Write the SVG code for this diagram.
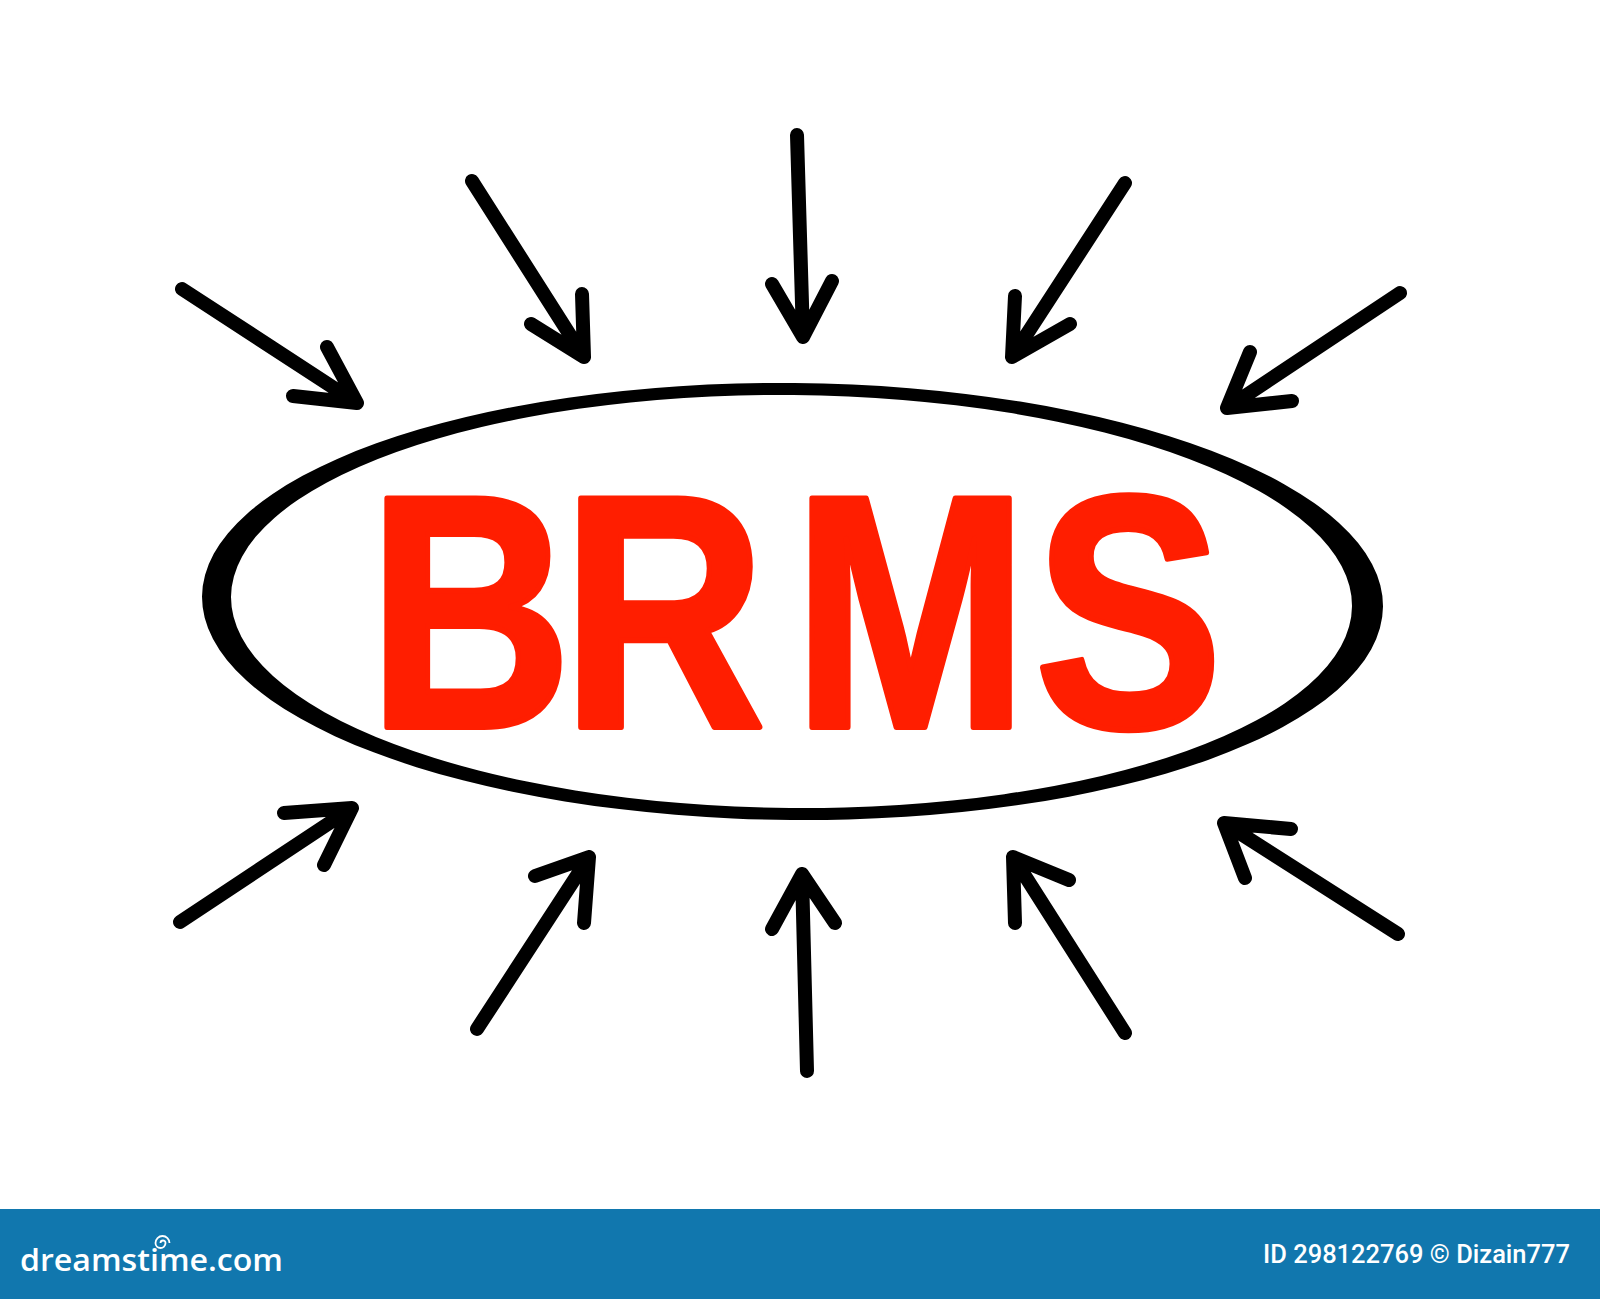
<svg xmlns="http://www.w3.org/2000/svg" width="1600" height="1299" viewBox="0 0 1600 1299">
<style>
.arr{fill:none;stroke:#000;stroke-width:14;stroke-linecap:round;stroke-linejoin:round}
.banner-txt{fill:#fff}
</style>
<rect width="1600" height="1299" fill="#fff"/>
<g id="ellipse-node">
<path fill="#000" fill-rule="evenodd" transform="rotate(0.5 792 602)" d="M202,601.5 A590.5,218.5 0 1,0 1383,601.5 A590.5,218.5 0 1,0 202,601.5 Z M231,601.5 A560.5,206.5 0 1,0 1352,601.5 A560.5,206.5 0 1,0 231,601.5 Z"/>
</g>
<g id="label-brms">
<text transform="scale(0.85,1)" x="433 661 933 1217" y="727" font-family="'Liberation Sans', Arial, sans-serif" font-weight="700" font-size="332" fill="#ff1e00" stroke="#ff1e00" stroke-width="6" stroke-linejoin="round">BRMS</text>
</g>
<g id="connectors">
<path class="arr" d="M182,289 L357,403 M293,396 L357,403 L327,347"/>
<path class="arr" d="M472,181 L584,357 M531,324 L584,357 L582,294"/>
<path class="arr" d="M797,135 L803,337 M772,284 L803,337 L832,281"/>
<path class="arr" d="M1125,183 L1012,357 M1015,296 L1012,357 L1070,324"/>
<path class="arr" d="M1400,293 L1227,408 M1292,401 L1227,408 L1250,352"/>
<path class="arr" d="M180,922 L352,808 M284,813 L352,808 L324,865"/>
<path class="arr" d="M477,1029 L589,857 M535,876 L589,857 L584,923"/>
<path class="arr" d="M807,1071 L802,874 M772,929 L802,874 L835,923"/>
<path class="arr" d="M1125,1033 L1013,857 M1015,923 L1013,857 L1069,880"/>
<path class="arr" d="M1398,934 L1224,823 M1291,829 L1224,823 L1245,878"/>
</g>
<g id="banner">
<rect x="0" y="1209" width="1600" height="90" fill="#1177ae"/>
<text class="banner-txt" x="20" y="1271" font-family="'Open Sans', 'Liberation Sans', sans-serif" font-weight="600" font-size="31" textLength="263" lengthAdjust="spacingAndGlyphs">dreamstime.com</text>
<path d="M163,1243 m-2.5,0 a2.5,2.5 0 1,1 5,0 a5,5 0 1,1 -10,0 a7,7 0 1,1 14,0" fill="none" stroke="#fff" stroke-width="1.8"/>
<text class="banner-txt" x="1263" y="1263" font-family="Roboto, 'Liberation Sans', sans-serif" font-weight="500" font-size="25" textLength="307" lengthAdjust="spacingAndGlyphs">ID 298122769 © Dizain777</text>
</g>
</svg>
